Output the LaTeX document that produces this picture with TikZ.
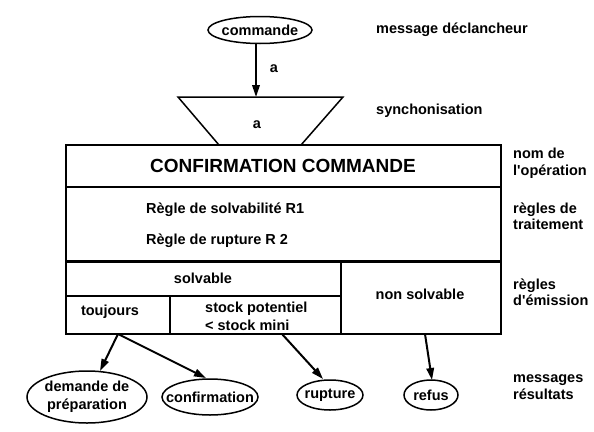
\documentclass[tikz,border=0pt]{standalone}
\usepackage{fontspec}
\setmainfont{Liberation Sans}[Ligatures=TeXOff]
\usetikzlibrary{arrows.meta,shapes.geometric}
\begin{document}
\begin{tikzpicture}[x=1pt,y=-1pt,
  txt/.style={font=\fontsize{14.5}{17}\selectfont\bfseries, inner sep=0pt},
  msg/.style={ellipse, draw, line width=1.5pt, inner sep=0pt},
  arr/.style={line width=2pt, -{Triangle[length=12pt,width=7.5pt]}},
  box/.style={line width=1.5pt}]
\useasboundingbox (0,0) rectangle (594,431);
% top message
\node[msg, minimum width=104pt, minimum height=27pt] (cmd) at (260,30) {};
\node[txt] (cmdt) at (260,30) {commande};
% trapezoid
\coordinate (tl) at (178,97);
\coordinate (tr) at (343,97);
\coordinate (br) at (301,145);
\coordinate (bl) at (219,145);
\coordinate (tm) at (256,97);
\draw[box] (tl) -- (tr) -- (br) -- (bl) -- cycle;
\node[txt] (sa) at (257,125) {a};
\draw[arr] (cmd.south -| tm) -- (tm);
\node[txt] (aa) at (274,69) {a};
% main box
\coordinate (A) at (66,145);
\coordinate (B) at (501,334);
\draw[box] (A) rectangle (B);
\draw[box] (66,187) -- (501,187);
\draw[line width=3pt] (66,261) -- (501,261);
\draw[box] (66,296) -- (341,296);
\draw[box] (341,261) -- (341,334);
\draw[box] (170,296) -- (170,334);
\node[font=\fontsize{19}{22}\selectfont\bfseries, inner sep=0pt] (title) at (283,166) {CONFIRMATION COMMANDE};
\node[txt, anchor=west] (r1) at (146,210) {Règle de solvabilité R1};
\node[txt, anchor=west] (r2) at (146,241) {Règle de rupture R 2};
\node[txt] (solv) at (203,278) {solvable};
\node[txt] (nsolv) at (420,294) {non solvable};
\node[txt] (touj) at (110,312) {toujours};
\node[txt, anchor=west, align=left, font=\fontsize{14.5}{18}\selectfont\bfseries] (stock) at (205,316) {stock potentiel\\< stock mini};
% result messages
\node[msg, minimum width=120pt, minimum height=52pt] (dem) at (87,397) {};
\node[txt, align=center, font=\fontsize{14.5}{18}\selectfont\bfseries] (demt) at (87,397) {demande de\\préparation};
\node[msg, minimum width=96pt, minimum height=36pt] (conf) at (210,397) {};
\node[txt] (conft) at (210,397) {confirmation};
\node[msg, minimum width=66pt, minimum height=30pt] (rup) at (330,395) {};
\node[txt] (rupt) at (330,395) {rupture};
\node[msg, minimum width=54pt, minimum height=30pt] (ref) at (431,395) {};
\node[txt] (reft) at (431,395) {refus};
\coordinate (o1) at (118,334);
\coordinate (o2) at (282,334);
\coordinate (o3) at (425,334);
\draw[arr] (o1) -- (100,371);
\draw[arr] (o1) -- (206,378);
\draw[arr] (o2) -- (323,379);
\draw[arr] (o3) -- (432,380);
% right labels
\node[txt, anchor=west] (l1) at (376,30) {message déclancheur};
\node[txt, anchor=west] (l2) at (376,111) {synchonisation};
\node[txt, anchor=west, align=left, font=\fontsize{14.5}{16.5}\selectfont\bfseries] (l3) at (513,163) {nom de\\l'opération};
\node[txt, anchor=west, align=left, font=\fontsize{14.5}{16.5}\selectfont\bfseries] (l4) at (513,216) {règles de\\traitement};
\node[txt, anchor=west, align=left, font=\fontsize{14.5}{16.5}\selectfont\bfseries] (l5) at (513,292) {règles\\d'émission};
\node[txt, anchor=west, align=left, font=\fontsize{14.5}{16.5}\selectfont\bfseries] (l6) at (513,387) {messages\\résultats};
\end{tikzpicture}
\end{document}
